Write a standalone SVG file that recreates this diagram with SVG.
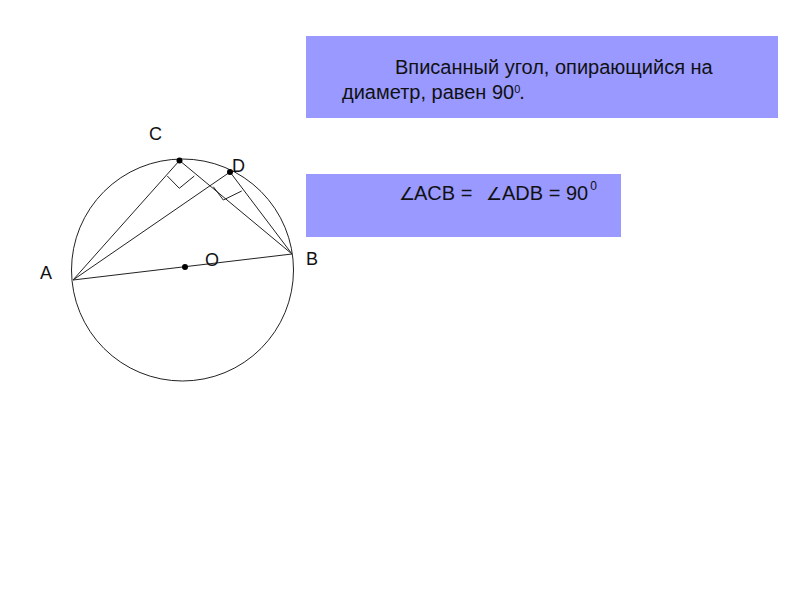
<svg xmlns="http://www.w3.org/2000/svg" width="800" height="600" viewBox="0 0 800 600">
<style>
.box{fill:#9999ff;}
.t{font-family:"Liberation Sans",Arial,sans-serif;font-size:20px;fill:#111;}
.ang{font-family:"Liberation Sans",Arial,sans-serif;font-size:18px;fill:#111;}
.lbl{font-family:"Liberation Sans",Arial,sans-serif;font-size:18px;fill:#111;}
.ln{stroke:#222;stroke-width:1;fill:none;}
.dot{fill:#000;}
</style>
<rect width="800" height="600" fill="#fff"/>
<g id="box1">
<rect class="box" x="306" y="36" width="472" height="82"/>
<text class="t" x="395" y="74">Вписанный угол, опирающийся на</text>
<text class="t" x="342" y="99">диаметр, равен 90<tspan font-size="11" dy="-6">0</tspan><tspan dx="-1" dy="6">.</tspan></text>
</g>
<g id="box2">
<rect class="box" x="306" y="174" width="315" height="63"/>
<text class="ang" x="399" y="200">∠</text>
<text class="t" x="414" y="200">ACB =</text>
<text class="ang" x="486" y="200">∠</text>
<text class="t" x="502" y="200">ADB = 90<tspan font-size="12" dx="2" dy="-10">0</tspan></text>
</g>
<g id="circle">
<circle class="ln" cx="182.5" cy="270" r="111" stroke-width="1.6"/>
</g>
<g id="connectors">
<line class="ln" x1="73" y1="280" x2="292" y2="254"/>
<line class="ln" x1="73" y1="280" x2="179.5" y2="160.5"/>
<line class="ln" x1="179.5" y1="160.5" x2="292" y2="254"/>
<line class="ln" x1="73" y1="280" x2="230" y2="172"/>
<line class="ln" x1="230" y1="172" x2="292" y2="254"/>
<polyline class="ln" points="167.3,176 179.3,188.3 194.3,176"/>
<polyline class="ln" points="213.3,186.7 223.3,200 241.7,191"/>
</g>
<g id="points">
<circle class="dot" cx="179.5" cy="160.5" r="3"/>
<circle class="dot" cx="230" cy="172" r="3"/>
<circle class="dot" cx="185" cy="267" r="3"/>
</g>
<g id="labels">
<text class="lbl" x="149" y="140">C</text>
<text class="lbl" x="232" y="172">D</text>
<text class="lbl" x="40" y="279">A</text>
<text class="lbl" x="306" y="265">B</text>
<text class="lbl" x="205" y="266">O</text>
</g>
</svg>
